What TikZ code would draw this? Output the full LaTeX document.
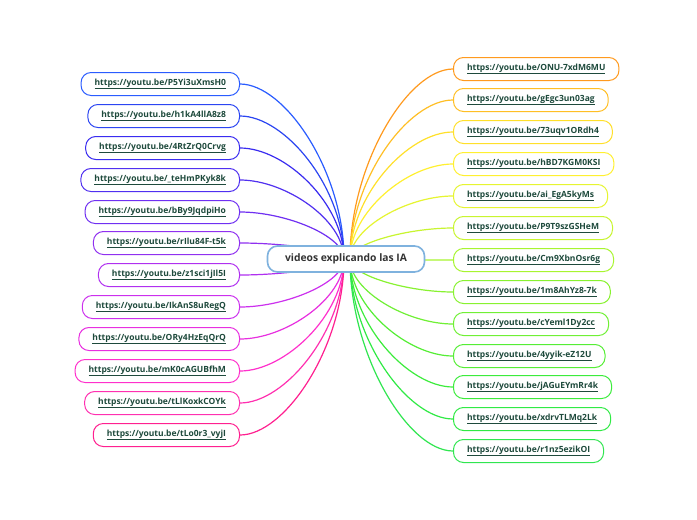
\documentclass[tikz,border=0pt]{standalone}
\usepackage{fontspec}
\setmainfont{Open Sans}
\usetikzlibrary{calc}
\begin{document}
\begin{tikzpicture}[x=1pt,y=-1pt,
  linkbox/.style={draw, line width=1pt, fill=white, rounded corners=10pt,
    minimum height=23pt, inner xsep=13.5pt, inner ysep=3pt,
    font=\fontsize{8.5}{10}\selectfont\bfseries, text=linktext},
  centerbox/.style={draw=centerborder, line width=1.6pt, fill=white, rounded corners=10pt,
    minimum height=26pt, minimum width=157pt,
    font=\fontsize{10.3}{12}\selectfont\bfseries, text=black!80},
  branch/.style={line width=1.2pt}]
\definecolor{linktext}{HTML}{1E4A3C}
\definecolor{centerborder}{HTML}{7FB2DE}
\useasboundingbox (0,0) rectangle (697,520);
\fill[white] (0,0) rectangle (697,520);
% left colours
\definecolor{L1}{HTML}{2A5CFF}
\definecolor{L2}{HTML}{2B45F2}
\definecolor{L3}{HTML}{3A2CF0}
\definecolor{L4}{HTML}{5030F0}
\definecolor{L5}{HTML}{7030F2}
\definecolor{L6}{HTML}{9030F0}
\definecolor{L7}{HTML}{B030F0}
\definecolor{L8}{HTML}{CC30EE}
\definecolor{L9}{HTML}{E830E0}
\definecolor{L10}{HTML}{FF30CC}
\definecolor{L11}{HTML}{FF30B0}
\definecolor{L12}{HTML}{FF2090}
% right colours
\definecolor{R1}{HTML}{FF9A1E}
\definecolor{R2}{HTML}{FFBF25}
\definecolor{R3}{HTML}{FFE02A}
\definecolor{R4}{HTML}{FFF030}
\definecolor{R5}{HTML}{E6F530}
\definecolor{R6}{HTML}{C8F530}
\definecolor{R7}{HTML}{A8F530}
\definecolor{R8}{HTML}{88F230}
\definecolor{R9}{HTML}{70F035}
\definecolor{R10}{HTML}{55EE35}
\definecolor{R11}{HTML}{3CEC3C}
\definecolor{R12}{HTML}{30EA45}
\definecolor{R13}{HTML}{30E650}
\coordinate (cl) at (344,259);
\coordinate (cr) at (350,259);
% left nodes
\foreach \i/\y/\t in {1/84/P5Yi3uXmsH0, 2/116/h1kA4llA8z8, 3/148/4RtZrQ0Crvg, 4/180/\_teHmPKyk8k,
  5/212/bBy9JqdpiHo, 6/243/rIlu84F-t5k, 7/275/z1sci1jIl5I, 8/307/IkAnS8uRegQ,
  9/339/ORy4HzEqQrQ, 10/371/mK0cAGUBfhM, 11/403/tLlKoxkCOYk, 12/435/tLo0r3\_vyjI}{
  \node[linkbox, draw=L\i, anchor=east] (l\i) at (240,\y) {\underline{https://youtu.be/\t}};
  \draw[branch, L\i] (l\i.east) .. controls ($(l\i.east)+(45,0)$) and ($(cl)!0.5!(cl|-l\i.east)$) .. (cl);
}
% right nodes
\foreach \i/\y/\t in {1/69/ONU-7xdM6MU, 2/100/gEgc3un03ag, 3/132/73uqv1ORdh4, 4/164/hBD7KGM0KSI,
  5/196/ai\_EgA5kyMs, 6/228/P9T9szGSHeM, 7/260/Cm9XbnOsr6g, 8/292/1m8AhYz8-7k,
  9/324/cYeml1Dy2cc, 10/356/4yyik-eZ12U, 11/387/jAGuEYmRr4k, 12/419/xdrvTLMq2Lk, 13/451/r1nz5ezikOI}{
  \node[linkbox, draw=R\i, anchor=west] (r\i) at (453,\y) {\underline{https://youtu.be/\t}};
  \draw[branch, R\i] (r\i.west) .. controls ($(r\i.west)+(-45,0)$) and ($(cr)!0.5!(cr|-r\i.west)$) .. (cr);
}
\node[centerbox] (c) at (346,259) {videos explicando las IA};
\end{tikzpicture}
\end{document}
